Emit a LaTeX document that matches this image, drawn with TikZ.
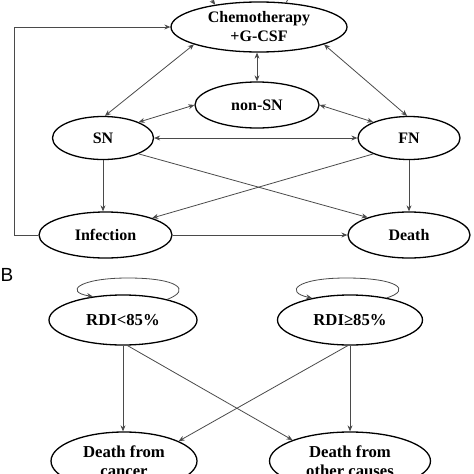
\documentclass[tikz,border=0pt]{standalone}
\usepackage{fontspec}
\setmainfont{Liberation Serif}
\newfontfamily\panelfont{Liberation Sans}
\usetikzlibrary{arrows.meta, shapes.geometric}
\definecolor{stLine}{HTML}{4A4A4A}
\tikzset{
  state/.style={
    draw=black, ellipse, line width=1.3pt, inner sep=0pt, align=center,
    font=\fontsize{16}{19}\selectfont\bfseries
  },
  stateB/.style={state, font=\fontsize{16.7}{19.5}\selectfont\bfseries},
  flow/.style={-{Stealth[length=6pt, width=5pt]}, line width=0.8pt, stLine},
  both/.style={flow, {Stealth[length=6pt, width=5pt]}-{Stealth[length=6pt, width=5pt]}},
  panel/.style={font=\panelfont\fontsize{19}{19}\selectfont, inner sep=0pt}
}

\begin{document}
\begin{tikzpicture}[x=1pt, y=-1pt]
  \useasboundingbox (0,0) rectangle (474,474);
  \clip (0,0) rectangle (474,474);
  % panel A
  \node[state, minimum width=176pt, minimum height=50pt] (chemo) at (259,27) {Chemotherapy\\+G-CSF};
  \node[state, minimum width=124pt, minimum height=46pt] (nonsn) at (257,105) {non-SN};
  \node[state, minimum width=101pt, minimum height=43pt] (sn) at (103,138) {SN};
  \node[state, minimum width=102pt, minimum height=43pt] (fn) at (409,138) {FN};
  \node[state, minimum width=133pt, minimum height=46pt] (infect) at (105.5,235) {Infection};
  \node[state, minimum width=122pt, minimum height=46pt] (death) at (409,235) {Death};
  \coordinate (back) at (14,235);
  \draw[flow] (chemo.42) .. controls (300,-20) and (290,-40) .. (250,-40)
              .. controls (205,-40) and (200,-15) .. (chemo.153);
  \draw[flow] (infect.west) -- (back) |- (chemo.west);
  \draw[both] (chemo.195) -- (sn.85);
  \draw[both] (nonsn.north |- chemo.south) -- (nonsn.north);
  \draw[both] (chemo.-15) -- (fn.95);
  \draw[both] (nonsn.west) -- (sn.24);
  \draw[both] (nonsn.east) -- (fn.156);
  \draw[both] (sn.east) -- (fn.west);
  \draw[flow] (sn.south) -- (sn.south |- infect.north);
  \draw[flow] (fn.south) -- (fn.south |- death.north);
  \draw[flow] (sn.-24) -- (death.157);
  \draw[flow] (fn.204) -- (infect.20);
  \draw[flow] (infect.east) -- (death.west);
  % panel B
  \node[panel] (labB) at (7,275) {B};
  \node[stateB, minimum width=148pt, minimum height=50pt] (rdilow) at (123,320) {RDI<85\%};
  \node[stateB, minimum width=145pt, minimum height=50pt] (rdihigh) at (350,320) {RDI≥85\%};
  \node[stateB, minimum width=146pt, minimum height=58pt] (dcancer) at (124,461) {Death from\\cancer};
  \node[stateB, minimum width=161pt, minimum height=58pt] (dother) at (350,461) {Death from\\other causes};
  \draw[flow] (rdilow.25) .. controls (192,290) and (178,278) .. (128,278)
              .. controls (78,278) and (64,292) .. (rdilow.142);
  \draw[flow] (rdihigh.31) .. controls (412,290) and (398,278) .. (346,278)
              .. controls (296,278) and (284,292) .. (rdihigh.150);
  \draw[flow] (rdilow.south) -- (rdilow.south |- dcancer.north);
  \draw[flow] (rdilow.-80) -- (dother.160);
  \draw[flow] (rdihigh.-95) -- (dcancer.20);
  \draw[flow] (rdihigh.south) -- (rdihigh.south |- dother.north);
\end{tikzpicture}
\end{document}
